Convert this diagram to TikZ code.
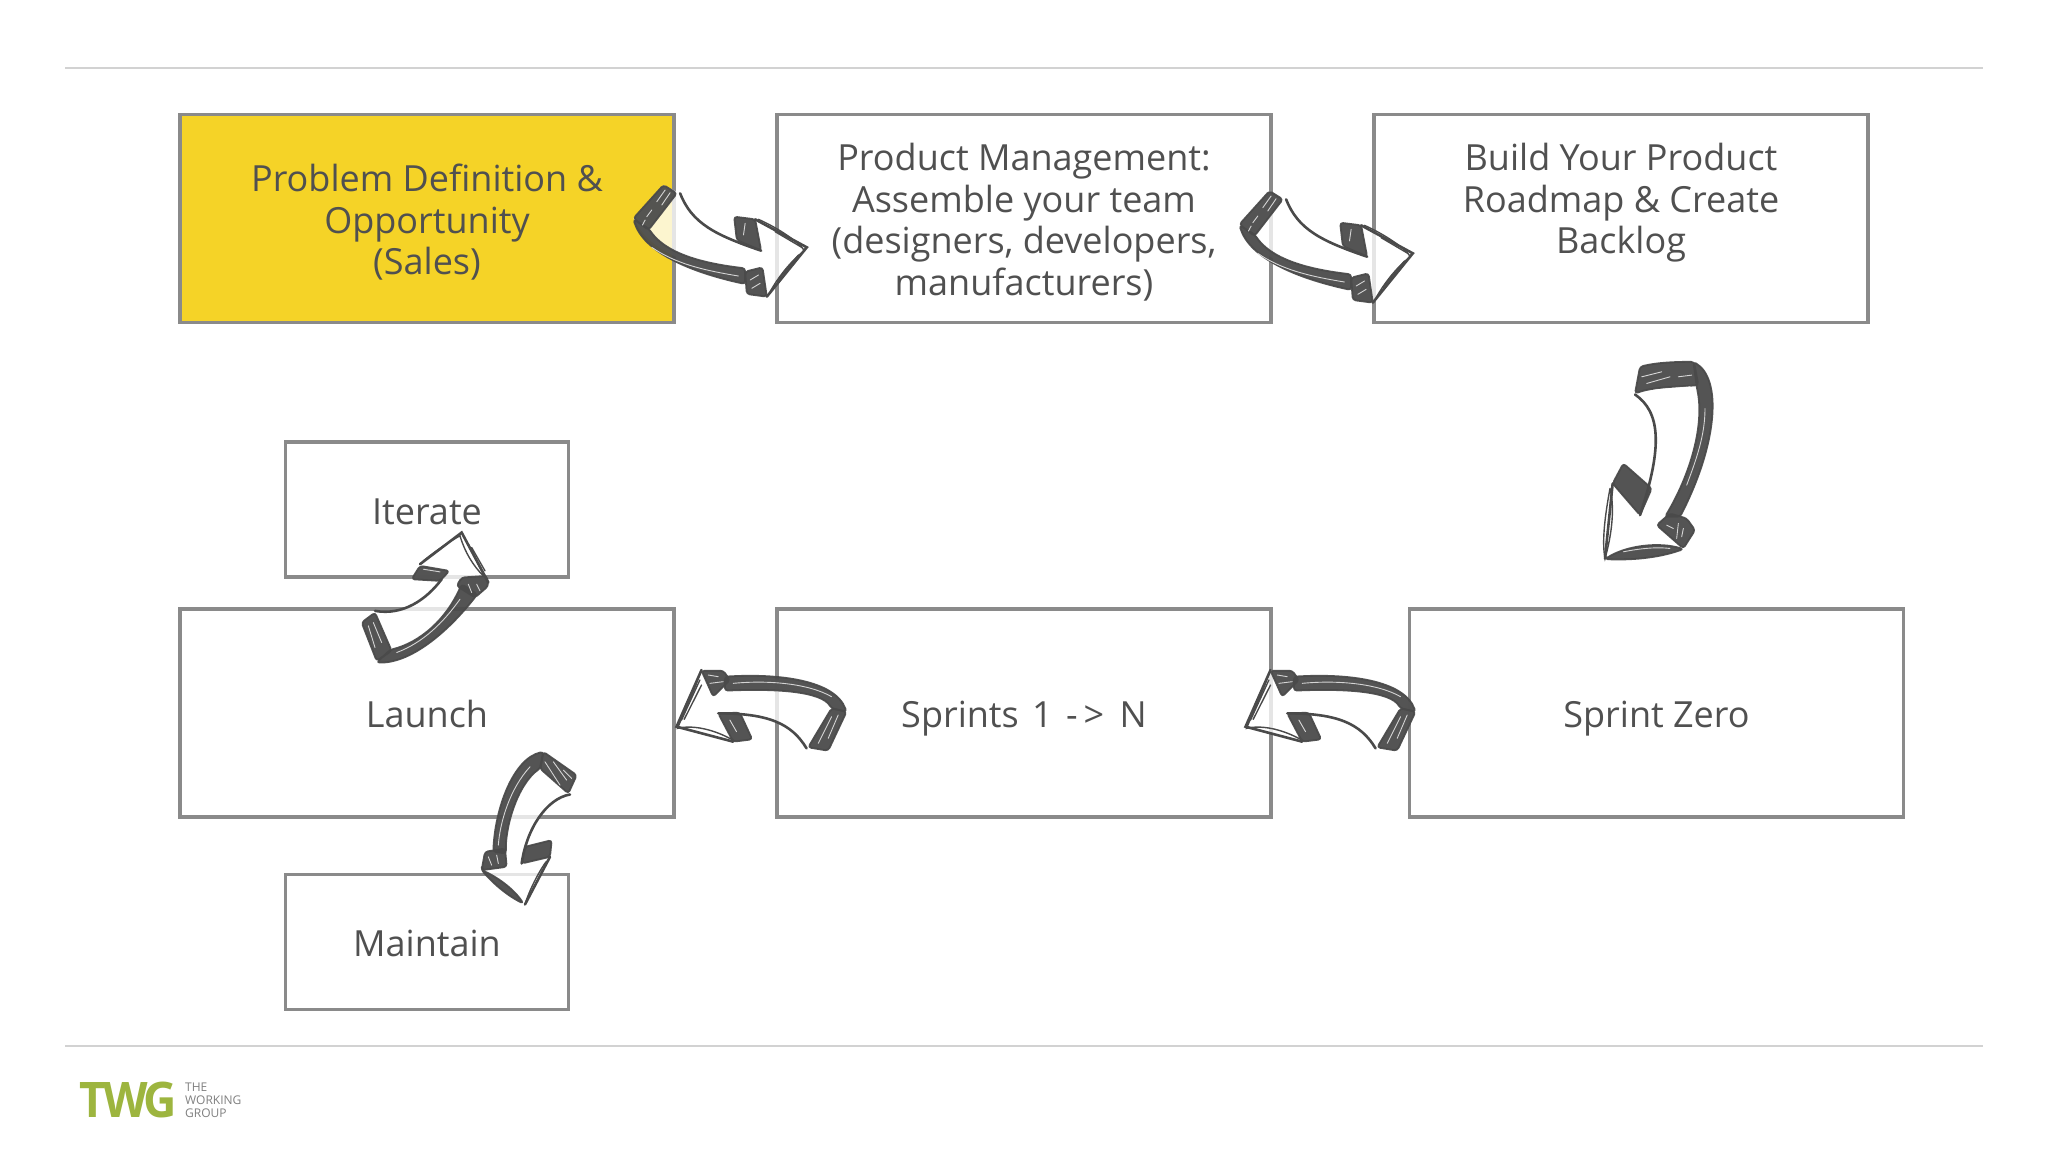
\documentclass[tikz,border=0pt]{standalone}
\usepackage{fontspec}
\setmainfont{Open Sans}
\usetikzlibrary{calc}
\definecolor{ink}{HTML}{4A4A4A}
\definecolor{boxline}{HTML}{8A8A8A}
\definecolor{rulegrey}{HTML}{D2D2D2}
\definecolor{txt}{HTML}{505050}
\definecolor{sun}{HTML}{F5D327}
\definecolor{logogreen}{HTML}{9DB53F}
\newcommand\lineA{\rule{0pt}{38pt}}
\newcommand\lineZ{\rule[-9pt]{0pt}{9pt}}
\tikzset{
  stage/.style={draw=boxline,line width=3.6pt,minimum width=494pt,minimum height=208pt,inner sep=0pt,
    align=center,text=txt,font=\fontsize{36}{41.8}\selectfont},
  substage/.style={stage,minimum width=283pt,minimum height=135pt},
  skbody/.style={fill=white,fill opacity=.78},
  skband/.style={fill=ink,draw=ink,line width=1.8pt,fill opacity=.94,draw opacity=.94,rounded corners=3pt,line join=round},
  skline/.style={draw=ink,line width=2.6pt,line cap=round},
  skfine/.style={draw=ink,line width=1.4pt,line cap=round},
  skscratch/.style={draw=white,line width=.9pt,opacity=.75,line cap=round},
}
% arrow pointing right
\newcommand\skarrowright[1]{\begin{scope}[shift={#1},scale=1/3]
  \path[skbody] (235,100) .. controls (270,190) and (340,225) .. (478,272) -- (400,170) -- (460,178) -- (615,262) -- (495,410) -- (430,345) .. controls (300,325) and (150,290) .. (95,175) -- (185,75) -- cycle;
  \path[skband] (95,178) .. controls (125,275) and (260,335) .. (430,372) -- (430,325) .. controls (300,310) and (190,280) .. (140,205) -- cycle;
  \path[skband] (185,75) -- (225,100) -- (140,210) -- (95,175) -- cycle;
  \path[skband] (397,170) -- (460,178) -- (478,272) -- (405,240) -- cycle;
  \path[skband] (430,335) -- (482,322) -- (495,410) -- (435,402) -- cycle;
  \draw[skline] (235,100) .. controls (270,190) and (340,225) .. (478,272);
  \draw[skline] (460,178) -- (615,262) -- (495,410);
  \draw[skfine] (470,178) .. controls (530,205) and (590,245) .. (608,272) .. controls (570,300) and (530,350) .. (505,395);
  \draw[skfine] (520,215) -- (600,262) (525,365) -- (590,285);
  \draw[skscratch] (190,90) -- (165,125) (205,98) -- (180,135) (130,180) -- (122,195) (150,150) -- (135,170);
  \draw[skscratch] (150,262) .. controls (220,310) and (300,330) .. (410,348);
  \draw[skscratch] (430,190) -- (425,225) (445,360) -- (470,345) (450,385) -- (475,370);
\end{scope}}
% arrow pointing left
\newcommand\skarrowleft[1]{\begin{scope}[shift={#1},scale=1/3]
  \path[skbody] (415,265) .. controls (370,190) and (300,160) .. (150,160) -- (195,245) -- (25,200) -- (100,30) -- (180,60) .. controls (330,50) and (500,60) .. (535,155) -- (480,272) -- cycle;
  \path[skband] (535,155) .. controls (500,60) and (330,40) .. (170,50) -- (170,92) .. controls (330,85) and (460,95) .. (490,145) -- cycle;
  \path[skband] (490,145) -- (535,155) -- (480,272) -- (420,262) -- cycle;
  \path[skband] (100,32) -- (165,32) -- (185,60) -- (135,110) -- cycle;
  \path[skband] (150,160) -- (215,158) -- (252,238) -- (195,245) -- cycle;
  \draw[skline] (415,265) .. controls (370,190) and (300,160) .. (150,160);
  \draw[skline] (195,245) -- (25,200) -- (100,30);
  \draw[skfine] (190,238) .. controls (130,205) and (70,195) .. (28,205) .. controls (50,150) and (80,90) .. (92,48);
  \draw[skfine] (40,180) -- (95,60) (48,178) -- (100,75);
  \draw[skscratch] (195,70) .. controls (300,60) and (420,70) .. (490,110);
  \draw[skscratch] (490,170) -- (450,250) (510,165) -- (480,235) (120,45) -- (150,50) (125,70) -- (165,65);
  \draw[skscratch] (185,180) -- (205,215);
\end{scope}}
% arrow pointing down, tail at the top
\newcommand\skarrowdown[1]{\begin{scope}[shift={#1},scale=1/3]
  \path[skbody] (135,158) .. controls (210,210) and (220,310) .. (150,520) -- (68,425) -- (45,650) -- (280,622) -- (200,550) -- (235,530) .. controls (340,400) and (400,120) .. (315,60) -- (150,75) -- cycle;
  \path[skband] (310,60) .. controls (395,110) and (385,300) .. (270,525) -- (225,525) .. controls (300,400) and (345,250) .. (320,135) -- cycle;
  \path[skband] (150,75) .. controls (200,62) and (260,60) .. (312,60) -- (325,130) .. controls (260,135) and (190,135) .. (135,155) -- cycle;
  \path[skband] (100,365) -- (185,440) -- (150,520) -- (68,425) -- cycle;
  \path[skband] (200,550) -- (240,515) -- (290,530) -- (315,565) -- (280,620) -- cycle;
  \path[skband] (45,652) .. controls (110,610) and (210,600) .. (280,622) .. controls (200,650) and (120,655) .. (45,652) -- cycle;
  \draw[skline] (135,158) .. controls (210,210) and (220,310) .. (150,520);
  \draw[skline] (68,425) -- (45,650);
  \draw[skfine] (60,440) .. controls (45,520) and (35,600) .. (45,650) .. controls (65,580) and (75,500) .. (60,440);
  \draw[skscratch] (155,105) -- (215,90) (170,125) -- (240,105) (265,105) -- (305,100) (195,145) -- (300,135);
  \draw[skscratch] (345,200) .. controls (345,280) and (320,350) .. (290,430) (230,550) -- (250,560) (265,545) -- (260,590) (280,560) -- (275,585);
  \draw[skscratch] (100,630) .. controls (150,620) and (200,615) .. (240,620);
\end{scope}}
% arrow pointing up and to the right
\newcommand\skarrowup[1]{\begin{scope}[shift={#1},scale=1/3]
  \path[skbody] (105,275) .. controls (190,290) and (260,240) .. (300,185) -- (215,180) -- (240,135) -- (365,40) -- (445,190) -- (365,190) .. controls (300,340) and (200,420) .. (110,425) -- (65,310) -- cycle;
  \path[skband] (110,430) .. controls (220,432) and (335,325) .. (412,225) -- (365,195) .. controls (320,300) and (240,370) .. (150,392) -- cycle;
  \path[skband] (65,310) -- (105,280) -- (155,395) -- (110,425) -- cycle;
  \path[skband] (240,140) -- (328,155) -- (300,185) -- (215,180) -- cycle;
  \path[skband] (365,175) -- (440,170) -- (445,200) -- (405,235) -- (350,200) -- cycle;
  \draw[skline] (105,275) .. controls (190,290) and (260,240) .. (305,180);
  \draw[skline] (240,135) -- (365,40) -- (445,190);
  \draw[skfine] (250,125) .. controls (300,85) and (340,60) .. (360,50) .. controls (375,100) and (400,140) .. (430,170);
  \draw[skfine] (385,75) -- (430,165) (395,85) -- (435,155);
  \draw[skscratch] (85,320) -- (105,385) (100,310) -- (125,370) (170,400) .. controls (250,370) and (310,310) .. (360,240);
  \draw[skscratch] (250,150) -- (300,158) (385,195) -- (395,220) (410,195) -- (420,215);
\end{scope}}
% arrow pointing down and to the left
\newcommand\skarrowback[1]{\begin{scope}[shift={#1},scale=1/3]
  \path[skbody] (330,158) .. controls (260,170) and (200,260) .. (185,365) -- (270,345) -- (195,488) -- (65,385) -- (140,370) .. controls (100,250) and (160,50) .. (250,30) -- (350,100) -- cycle;
  \path[skband] (250,30) .. controls (160,50) and (105,200) .. (100,330) -- (138,335) .. controls (135,260) and (170,130) .. (242,78) -- cycle;
  \path[skband] (250,30) -- (350,100) -- (325,155) -- (240,80) -- cycle;
  \path[skband] (195,315) -- (275,295) -- (270,345) -- (185,365) -- cycle;
  \path[skband] (75,330) -- (135,320) -- (140,375) -- (65,385) -- cycle;
  \path[skband] (65,385) .. controls (110,405) and (160,440) .. (190,485) .. controls (140,460) and (100,425) .. (65,385) -- cycle;
  \draw[skline] (330,158) .. controls (260,170) and (200,260) .. (185,365);
  \draw[skline] (195,488) -- (270,345);
  \draw[skfine] (198,478) .. controls (215,430) and (240,385) .. (258,360);
  \draw[skscratch] (255,60) -- (300,130) (280,60) -- (320,115) (310,85) -- (335,110);
  \draw[skscratch] (210,75) .. controls (150,140) and (120,240) .. (115,310) (85,345) -- (95,370) (110,340) -- (115,365);
\end{scope}}
\begin{document}
\begin{tikzpicture}[x=1pt,y=-1pt]
\useasboundingbox (0,0) rectangle (2048,1152);
\fill[white] (0,0) rectangle (2048,1152);
\coordinate (ruleTL) at (65,68); \coordinate (ruleTR) at (1983,68);
\coordinate (ruleBL) at (65,1046); \coordinate (ruleBR) at (1983,1046);
\draw[rulegrey,line width=2pt] (ruleTL) -- (ruleTR);
\draw[rulegrey,line width=2pt] (ruleBL) -- (ruleBR);

\node[stage,fill=sun] (problem) at (427,218.5) {\lineA Problem Definition \&\\Opportunity\\(Sales)\lineZ};
\node[stage] (product) at (1024,218.5) {\lineA Product Management:\\Assemble your team\\(designers, developers,\\manufacturers)\lineZ};
\node[stage] (roadmap) at (1621,218.5) {\lineA Build Your Product\\Roadmap \& Create\\Backlog\\\lineZ};
\node[stage] (zero) at (1656.5,713) {\lineA Sprint Zero\lineZ};
\node[stage] (sprints) at (1024,713) {\lineA Sprints\kern4pt{} 1\kern4pt{} -\kern6pt>\kern6pt{} N\lineZ};
\node[stage] (launch) at (427,713) {\lineA Launch\lineZ};
\node[substage] (iterate) at (427,509.5) {\lineA Iterate\lineZ};
\node[substage] (maintain) at (427,942) {\lineA Maintain\lineZ};

\skarrowright{($(problem.east)+(-74,-58.5)$)}
\skarrowright{($(product.east)+(-65,-52.5)$)}
\skarrowdown{($(roadmap.south)+(-31,17.5)$)}
\skarrowleft{($(zero.west)+(-170.5,-53)$)}
\skarrowleft{($(sprints.west)+(-107,-53)$)}
\skarrowup{($(launch.north)+(-87,-88)$)}
\skarrowback{($(launch.south)+(33,-77)$)}

\node[text=logogreen,font=\fontsize{49}{49}\bfseries\selectfont,inner sep=0pt] (logo) at (128,1100) {\scalebox{.94}[1]{T\kern-.06em W\kern-.1em G}};
\node[text=gray,font=\fontsize{12}{13}\selectfont,align=left,anchor=west,inner sep=0pt] (wordmark) at (185,1100) {THE\\WORKING\\GROUP};
\end{tikzpicture}
\end{document}
